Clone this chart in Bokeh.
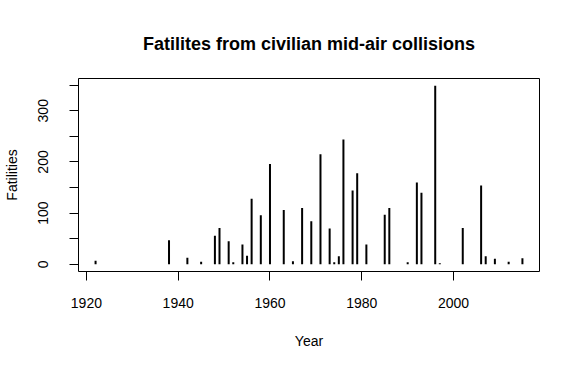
from bokeh.plotting import figure
from bokeh.models import Range1d, FixedTicker, ColumnDataSource
from bokeh.embed import file_html
from bokeh.resources import INLINE

years = [1922, 1938, 1942, 1945, 1948, 1949, 1951, 1952, 1954, 1955, 1956, 1958,
         1960, 1963, 1965, 1967, 1969, 1971, 1973, 1974, 1975, 1976, 1978, 1979,
         1981, 1985, 1986, 1990, 1992, 1993, 1996, 1997, 2002, 2006, 2007, 2009,
         2012, 2015]
fatalities = [7, 47, 13, 5, 56, 71, 45, 4, 39, 17, 128, 96,
              196, 106, 6, 110, 84, 215, 70, 4, 16, 244, 144, 178,
              39, 97, 110, 4, 160, 140, 349, 2, 71, 154, 16, 11,
              5, 12]
x_ticks = [1920, 1940, 1960, 1980, 2000]
y_ticks = [0, 50, 100, 150, 200, 250, 300, 350]
y_labels = {50: "", 150: "", 250: "", 350: ""}

FONT = "Liberation Sans"

xr = (min(years), max(years))
xpad = 0.04 * (xr[1] - xr[0])
ypad = 0.04 * (max(fatalities) - 0)

p = figure(width=564, height=354, output_backend="svg", toolbar_location=None,
           x_range=Range1d(xr[0] - xpad, xr[1] + xpad),
           y_range=Range1d(0 - ypad, max(fatalities) + ypad),
           min_border_left=77, min_border_right=25, min_border_top=78,
           min_border_bottom=83,
           title="Fatilites from civilian mid-air collisions")

src = ColumnDataSource(dict(x=years, y=fatalities, y0=[0] * len(years)))
p.segment(x0="x", y0="y0", x1="x", y1="y", source=src, line_color="black",
          line_width=2)

p.grid.visible = False
p.outline_line_color = "black"
p.outline_line_width = 1
p.background_fill_color = "white"
p.border_fill_color = "white"

p.title.align = "center"
p.title.text_font = FONT
p.title.text_font_size = "18px"
p.title.text_font_style = "bold"
p.title.text_color = "black"
p.title.standoff = 49

for ax in (p.xaxis[0], p.yaxis[0]):
    ax.axis_line_color = None
    ax.major_tick_out = 9
    ax.major_tick_in = 0
    ax.minor_tick_line_color = None
    ax.major_tick_line_color = "black"
    ax.major_label_text_font = FONT
    ax.major_label_text_font_size = "14px"
    ax.major_label_text_color = "black"
    ax.axis_label_text_font = FONT
    ax.axis_label_text_font_size = "14px"
    ax.axis_label_text_font_style = "normal"
    ax.axis_label_text_color = "black"

p.xaxis.ticker = FixedTicker(ticks=x_ticks)
p.xaxis.bounds = (x_ticks[0], x_ticks[-1])
p.xaxis.axis_label = "Year"
p.xaxis.major_label_standoff = 17
p.xaxis.axis_label_standoff = 22

p.yaxis.ticker = FixedTicker(ticks=y_ticks)
p.yaxis.bounds = (y_ticks[0], y_ticks[-1])
p.yaxis.major_label_overrides = y_labels
p.yaxis.major_label_orientation = "vertical"
p.yaxis.axis_label = "Fatilities"
p.yaxis.major_label_standoff = 21
p.yaxis.axis_label_standoff = 16

open("out.html", "w").write(file_html(p, INLINE))
